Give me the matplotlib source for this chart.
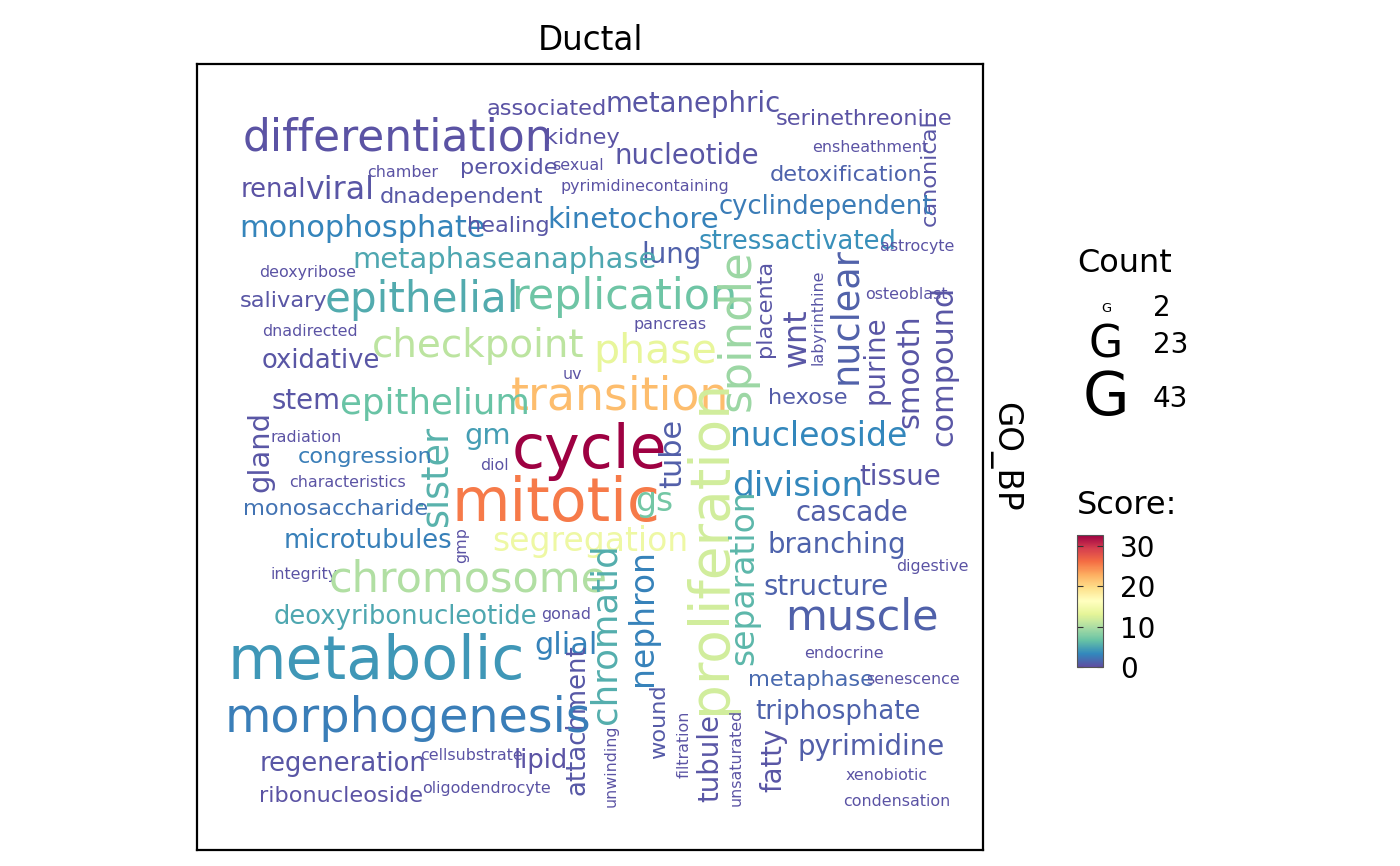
import numpy as np
import matplotlib
matplotlib.use("Agg")
import matplotlib.pyplot as plt
from matplotlib.colors import Normalize
from matplotlib.colorbar import ColorbarBase

plt.rcParams['font.family'] = ['DejaVu Sans']

# GO_BP terms for the Ductal cluster
words = ["differentiation", "associated", "metanephric", "kidney", "serinethreonine",
         "ensheathment", "canonical", "chamber", "peroxide", "sexual",
         "nucleotide", "renal", "viral", "dnadependent", "pyrimidinecontaining",
         "detoxification", "monophosphate", "healing", "kinetochore", "cyclindependent",
         "stressactivated", "astrocyte", "lung", "metaphaseanaphase", "deoxyribose",
         "salivary", "epithelial", "replication", "spindle", "placenta",
         "wnt", "labyrinthine", "nuclear", "osteoblast", "purine",
         "smooth", "compound", "dnadirected", "pancreas", "checkpoint",
         "phase", "oxidative", "uv", "transition", "proliferation",
         "hexose", "stem", "epithelium", "gland", "radiation",
         "sister", "gm", "cycle", "tube", "nucleoside",
         "congression", "diol", "tissue", "characteristics", "mitotic",
         "division", "gs", "monosaccharide", "separation", "cascade",
         "microtubules", "segregation", "gmp", "branching", "digestive",
         "integrity", "chromosome", "chromatid", "nephron", "structure",
         "deoxyribonucleotide", "gonad", "muscle", "glial", "metabolic",
         "endocrine", "attachment", "wound", "metaphase", "senescence",
         "morphogenesis", "filtration", "unwinding", "triphosphate", "tubule",
         "unsaturated", "fatty", "pyrimidine", "cellsubstrate", "regeneration",
         "lipid", "xenobiotic", "ribonucleoside", "oligodendrocyte", "condensation"]

counts = [23, 6, 9, 6, 6, 3, 6, 3, 6, 3,
          9, 8, 12, 6, 3, 6, 11, 6, 10, 8,
          8, 3, 9, 10, 3, 6, 21, 22, 24, 6,
          12, 3, 16, 3, 9, 11, 11, 3, 3, 18,
          20, 8, 3, 25, 36, 6, 9, 15, 10, 3,
          16, 10, 43, 11, 13, 6, 3, 9, 3, 43,
          14, 13, 6, 13, 9, 8, 13, 3, 9, 3,
          3, 22, 15, 13, 9, 8, 3, 22, 11, 43,
          3, 8, 6, 6, 3, 27, 3, 3, 8, 9,
          3, 9, 9, 3, 8, 8, 3, 6, 3, 3]

scores = [0.3, 0.3, 0.4, 0.3, 0.3, 0.3, 0.4, 0.3, 0.4, 0.3,
          0.5, 0.3, 0.4, 0.6, 0.3, 1.2, 3.1, 0.5, 3.0, 2.6,
          3.8, 0.3, 1.1, 5.0, 0.3, 0.4, 5.3, 7.0, 9.2, 0.4,
          0.5, 0.4, 1.1, 0.3, 0.4, 0.5, 0.4, 0.3, 0.3, 10.8,
          13.4, 0.5, 0.3, 22.0, 12.0, 0.8, 0.4, 6.7, 0.5, 0.3,
          5.7, 4.6, 32.75, 1.0, 3.2, 2.8, 0.3, 0.4, 0.3, 25.5,
          3.3, 7.2, 2.1, 6.0, 1.0, 2.9, 14.2, 0.3, 1.2, 0.3,
          0.3, 10.2, 5.4, 3.0, 1.2, 5.1, 0.3, 1.1, 3.0, 4.1,
          0.3, 0.6, 0.7, 1.6, 0.3, 2.7, 0.3, 0.3, 1.2, 0.5,
          0.3, 0.4, 1.0, 0.3, 0.4, 0.3, 0.3, 0.3, 0.3, 0.3]

# word cloud layout (panel pixel coords, rotation)
layout = {
    "differentiation": (201, 74, 0), "associated": (350, 45, 0), "metanephric": (496, 40, 0),
    "kidney": (385, 74, 0), "serinethreonine": (667, 55, 0), "ensheathment": (673, 83, 0),
    "canonical": (733, 109, 90), "chamber": (206, 108, 0), "peroxide": (312, 104, 0),
    "sexual": (381, 101, 0), "nucleotide": (490, 92, 0), "renal": (76, 126, 0),
    "viral": (143, 126, 0), "dnadependent": (265, 133, 0), "pyrimidinecontaining": (448, 122, 0),
    "detoxification": (649, 111, 0), "monophosphate": (166, 164, 0), "healing": (311, 162, 0),
    "kinetochore": (436, 156, 0), "cyclindependent": (629, 143, 0), "stressactivated": (601, 178, 0),
    "astrocyte": (720, 182, 0), "lung": (475, 191, 0), "metaphaseanaphase": (308, 196, 0),
    "deoxyribose": (111, 208, 0), "salivary": (87, 237, 0), "epithelial": (225, 236, 0),
    "replication": (427, 233, 0), "spindle": (540, 266, 90), "placenta": (568, 244, 90),
    "wnt": (600, 274, 90), "labyrinthine": (621, 253, 90), "nuclear": (649, 252, 90),
    "osteoblast": (709, 230, 0), "purine": (679, 296, 90), "smooth": (713, 307, 90),
    "compound": (747, 302, 90), "dnadirected": (113, 267, 0), "pancreas": (473, 261, 0),
    "checkpoint": (281, 282, 0), "phase": (458, 288, 0), "oxidative": (124, 297, 0),
    "uv": (375, 310, 0), "transition": (423, 333, 0), "proliferation": (513, 482, 90),
    "hexose": (611, 334, 0), "stem": (109, 337, 0), "epithelium": (238, 340, 0),
    "gland": (63, 387, 90), "radiation": (109, 373, 0), "sister": (239, 412, 90),
    "gm": (291, 372, 0), "cycle": (392, 387, 0), "tube": (476, 389, 90),
    "nucleoside": (622, 372, 0), "congression": (168, 393, 0), "diol": (297, 401, 0),
    "tissue": (703, 413, 0), "characteristics": (151, 418, 0), "mitotic": (359, 441, 0),
    "division": (601, 422, 0), "gs": (457, 437, 0), "monosaccharide": (139, 445, 0),
    "separation": (547, 513, 90), "cascade": (655, 449, 0), "microtubules": (171, 477, 0),
    "segregation": (393, 477, 0), "gmp": (265, 481, 90), "branching": (640, 481, 0),
    "digestive": (735, 502, 0), "integrity": (107, 511, 0), "chromosome": (271, 515, 0),
    "chromatid": (409, 570, 90), "nephron": (446, 554, 90), "structure": (629, 523, 0),
    "deoxyribonucleotide": (208, 553, 0), "gonad": (369, 550, 0), "muscle": (665, 554, 0),
    "glial": (369, 581, 0), "metabolic": (179, 598, 0), "endocrine": (647, 590, 0),
    "attachment": (381, 656, 90), "wound": (462, 658, 90), "metaphase": (614, 616, 0),
    "senescence": (716, 616, 0), "morphogenesis": (211, 654, 0), "filtration": (487, 680, 90),
    "unwinding": (414, 702, 90), "triphosphate": (641, 648, 0), "tubule": (513, 694, 90),
    "unsaturated": (539, 693, 90), "fatty": (576, 696, 90), "pyrimidine": (674, 683, 0),
    "cellsubstrate": (275, 692, 0), "regeneration": (146, 700, 0), "lipid": (344, 697, 0),
    "xenobiotic": (690, 712, 0), "ribonucleoside": (144, 732, 0), "oligodendrocyte": (290, 725, 0),
    "condensation": (700, 737, 0),
}

legend_counts = [2, 23, 43]
score_ticks = [0, 10, 20, 30]
score_max = 32.75


def count_size(c):
    # size proportional to sqrt(count), like scale_size_area
    return 43.3 * np.sqrt(c / 43.0)


cmap = plt.get_cmap("Spectral_r")
norm = Normalize(vmin=0, vmax=score_max)

fig = plt.figure(figsize=(14, 8.66), dpi=100)
ax = fig.add_axes([197 / 1400, 1 - 850 / 866, 786 / 1400, 786 / 866])
ax.set_xlim(0, 786)
ax.set_ylim(786, 0)
ax.set_xticks([])
ax.set_yticks([])
for sp in ax.spines.values():
    sp.set_linewidth(1.6)
    sp.set_color("black")

for w, c, s in zip(words, counts, scores):
    x, y, rot = layout[w]
    ax.text(x, y, w, fontsize=count_size(c), color=cmap(norm(s)),
            rotation=rot, ha="center", va="center")

# overlay in figure pixel coords for titles and legend
ov = fig.add_axes([0, 0, 1, 1], zorder=-1)
ov.set_xlim(0, 1400)
ov.set_ylim(866, 0)
ov.axis("off")

ov.text(590, 40, "Ductal", fontsize=23.5, ha="center", va="center")
ov.text(1005, 457, "GO_BP", fontsize=23.5, rotation=-90, ha="center", va="center")

ov.text(1077, 263, "Count", fontsize=23, ha="left", va="center")
g_y = [308, 345, 399]
for c, gy in zip(legend_counts, g_y):
    ov.text(1106, gy, "G", fontsize=count_size(c), ha="center", va="center")
    ov.text(1153, gy, str(c), fontsize=20, ha="left", va="center")

ov.text(1077, 505, "Score:", fontsize=23, ha="left", va="center")

cax = fig.add_axes([1077 / 1400, 1 - 667 / 866, 26 / 1400, 132 / 866])
cb = ColorbarBase(cax, cmap=cmap, norm=norm, ticks=score_ticks)
cb.outline.set_linewidth(0.8)
cb.outline.set_edgecolor("#555555")
cax.tick_params(axis="y", direction="in", length=4, width=0.8, color="#333333",
                left=True, right=True, labelsize=20, pad=12)
cax.yaxis.set_ticks_position("both")
cax.yaxis.set_label_position("right")
for lab in cax.get_yticklabels():
    lab.set_horizontalalignment("left")

fig.savefig("out.png", dpi=100)
